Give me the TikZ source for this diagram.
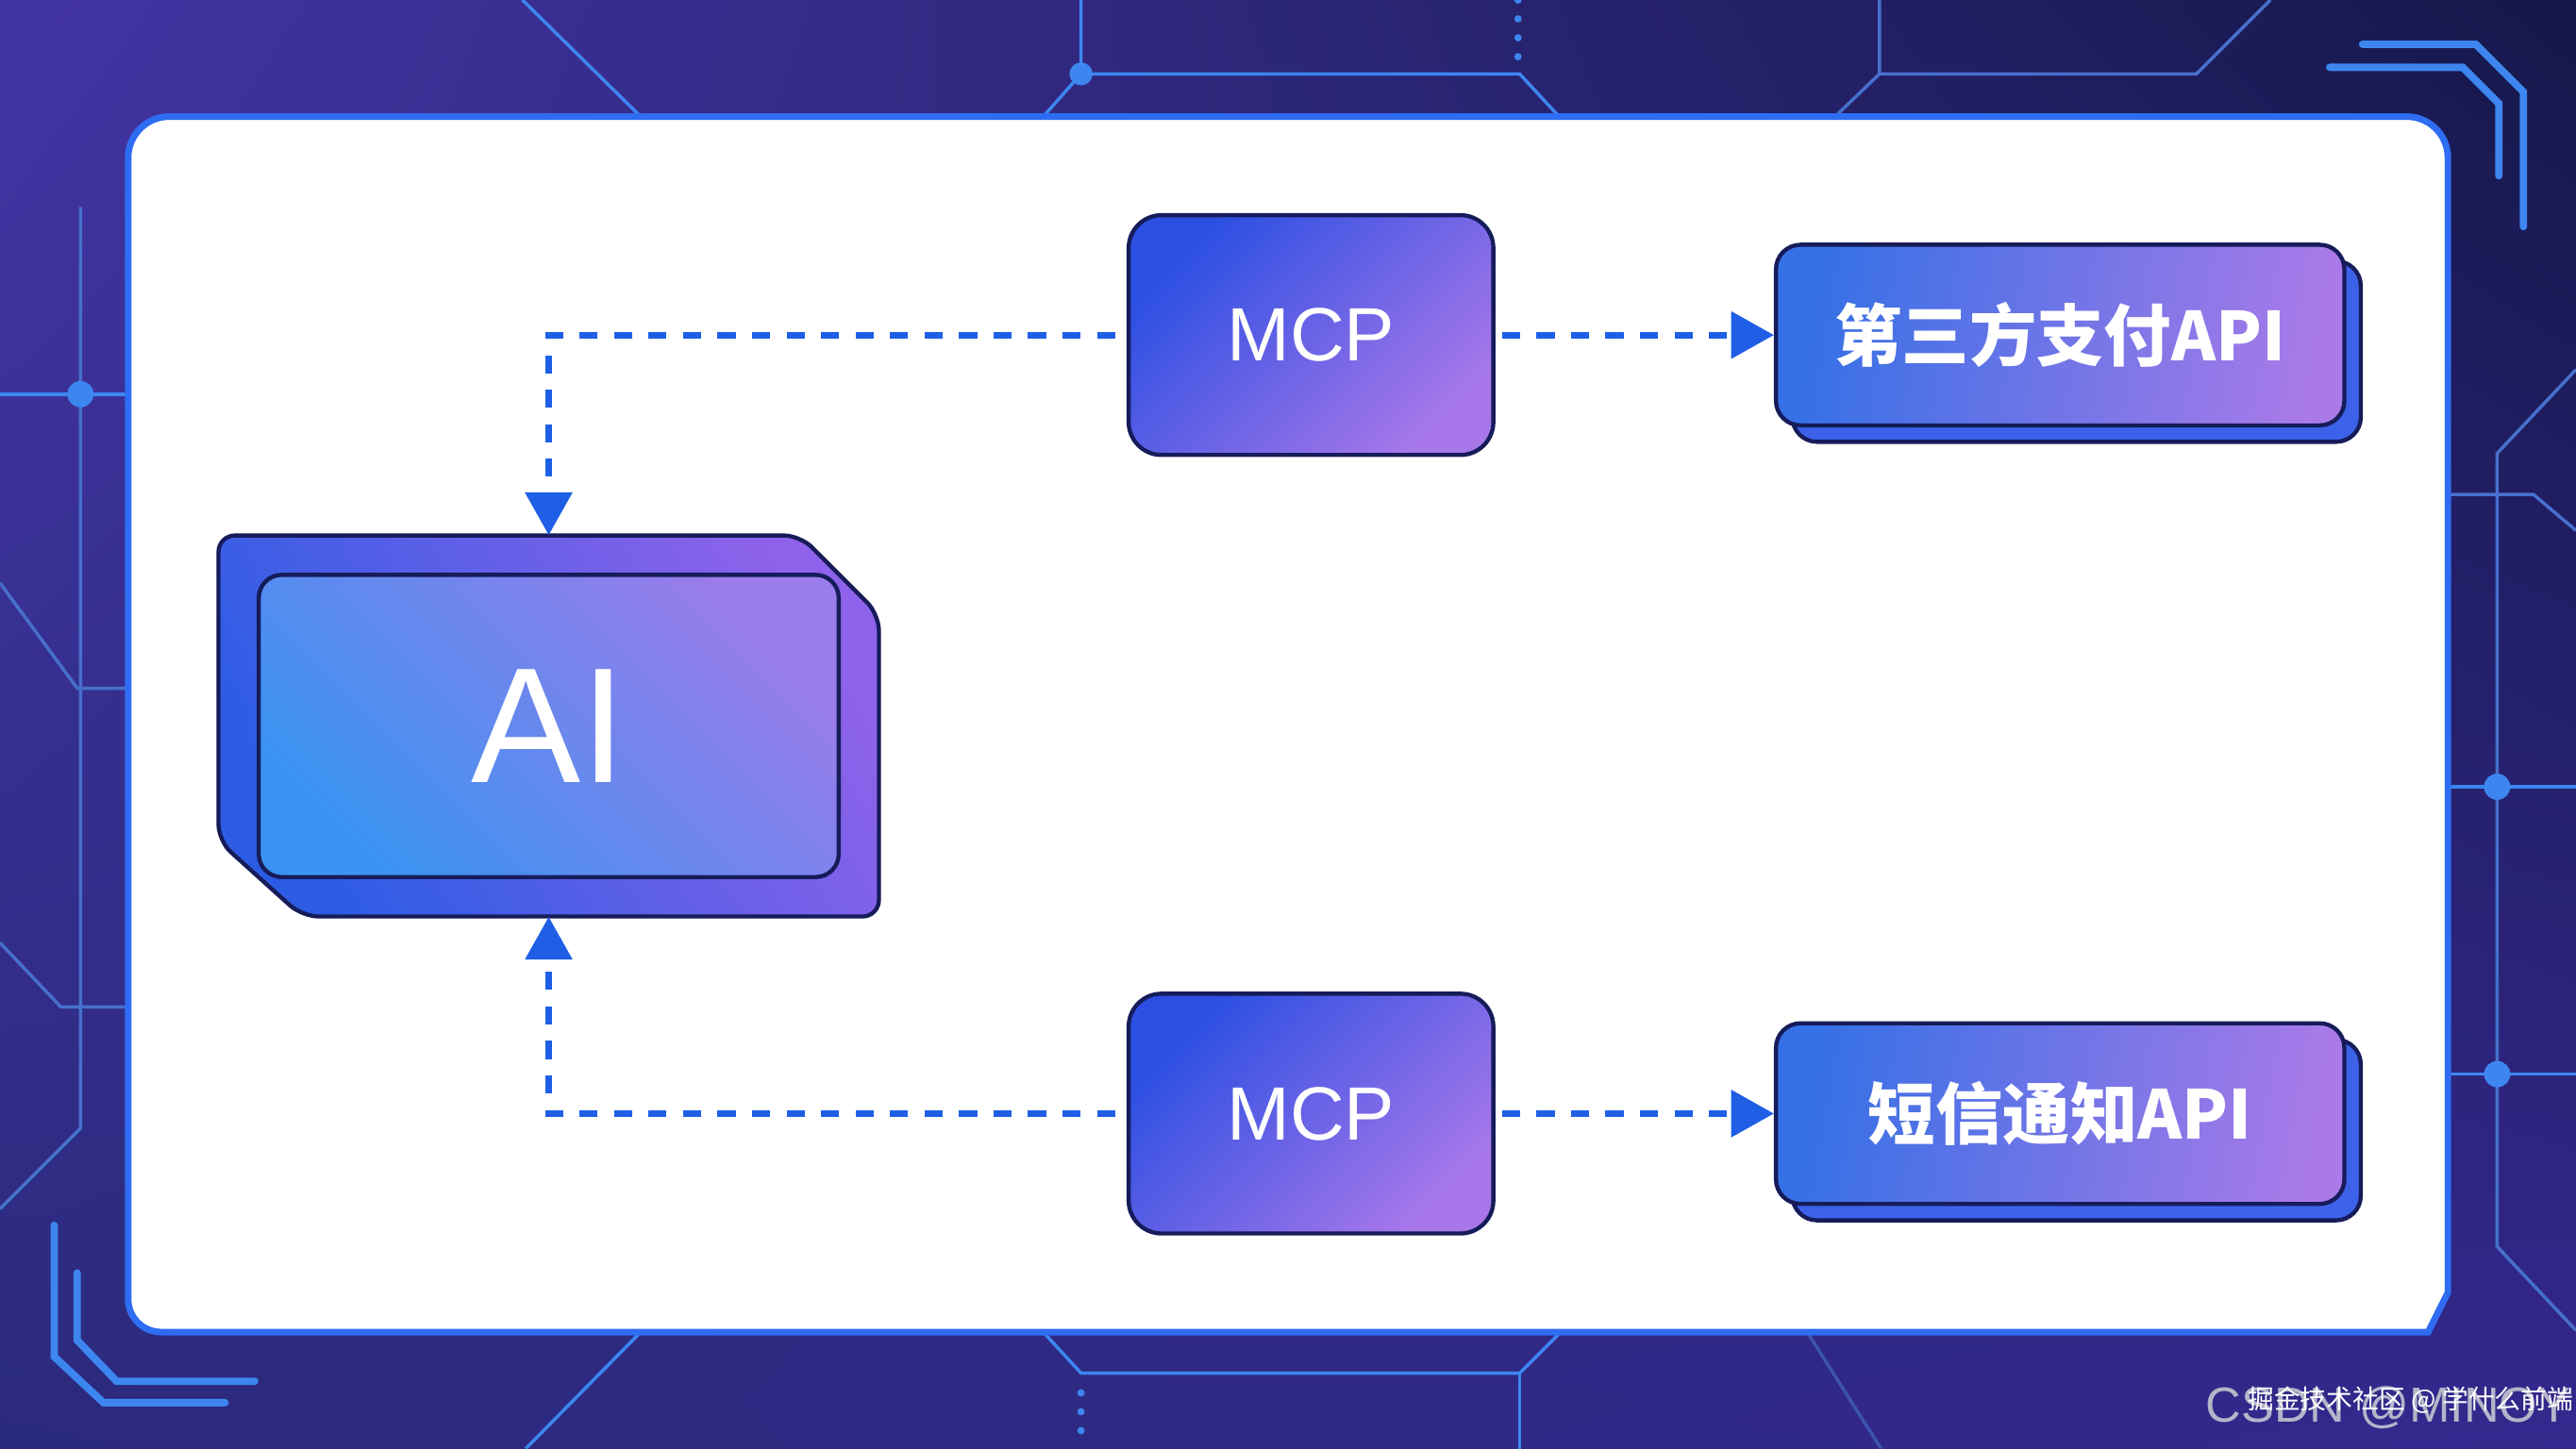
\documentclass[tikz,border=0pt]{standalone}
\usepackage{fontspec}
\setmainfont{Liberation Sans}
\newfontfamily\cjk{Noto Sans CJK SC}
\usetikzlibrary{arrows.meta,calc,shadings}
\definecolor{bgA}{HTML}{4334A4}
\definecolor{bgB}{HTML}{15174A}
\definecolor{bgC}{HTML}{2A2A7C}
\definecolor{bgD}{HTML}{34288E}
\definecolor{lineblue}{HTML}{3D86F0}
\definecolor{linedim}{HTML}{4670CC}
\definecolor{navy}{HTML}{161C5A}
\definecolor{mcpA}{HTML}{2B4FE2}
\definecolor{mcpM}{HTML}{5563E2}
\definecolor{mcpB}{HTML}{A777EA}
\definecolor{apiA}{HTML}{3570E6}
\definecolor{apiM}{HTML}{6570E4}
\definecolor{apiB}{HTML}{A97AE8}
\definecolor{apiS}{HTML}{3C62EA}
\definecolor{aiOA}{HTML}{2C5CE4}
\definecolor{aiOM}{HTML}{4A56DE}
\definecolor{aiOB}{HTML}{8E62EA}
\definecolor{aiIA}{HTML}{3A93F2}
\definecolor{aiIM}{HTML}{4D72E4}
\definecolor{aiIB}{HTML}{9A7CEA}
\definecolor{connblue}{HTML}{1F5FE6}
\definecolor{panelblue}{HTML}{2E6CF2}
\definecolor{wmgrey}{HTML}{C4C4D0}
\tikzset{
  circ/.style={draw=lineblue, line width=2pt},
  circdim/.style={draw=linedim, line width=2pt},
  bracket/.style={draw=lineblue, line width=4.5pt, line cap=round},
  dotline/.style={draw=lineblue, line width=4.5pt, line cap=round, dash pattern=on 0pt off 11.5pt},
  box/.style={draw=navy, line width=2.5pt, inner sep=0pt, text=white},
  mcpbox/.style={box, rounded corners=20pt, minimum width=222pt, minimum height=146pt,
    left color=mcpA, middle color=mcpM, right color=mcpB, shading angle=45,
    font=\fontsize{46}{46}\selectfont},
  apibox/.style={box, rounded corners=15pt, minimum width=346pt, minimum height=110pt,
    left color=apiA, middle color=apiM, right color=apiB, shading angle=80,
    font=\cjk\bfseries\fontsize{41}{41}\selectfont},
  apishadow/.style={box, rounded corners=15pt, minimum width=346pt, minimum height=110pt,
    fill=apiS},
  aiouter/.style={draw=navy, line width=2.5pt, left color=aiOA, middle color=aiOM, right color=aiOB, shading angle=120},
  aiinner/.style={box, rounded corners=14pt, minimum width=353pt, minimum height=184pt,
    left color=aiIA, middle color=aiIM, right color=aiIB, shading angle=135,
    font=\fontsize{100}{100}\selectfont},
  conn/.style={draw=connblue, line width=4pt, dash pattern=on 11pt off 10pt,
    -{Triangle[length=26pt,width=28pt]}},
  panel/.style={draw=panelblue, line width=4pt, fill=white}
}
\begin{document}
\begin{tikzpicture}[x=1pt,y=-1pt]
\useasboundingbox (0,0) rectangle (1568,882);
\clip (0,0) rectangle (1568,882);
\shade[upper left=bgA, upper right=bgB, lower left=bgC, lower right=bgD] (0,0) rectangle (1568,882);

% circuit lines: top
\draw[circ] (318,0) -- (390,71);
\draw[circ] (658,0) -- (658,45) -- (925,45) -- (949,71);
\draw[circ] (658,45) -- (635,71);
\fill[lineblue] (658,45) circle[radius=7];
\draw[dotline] (924,0) -- (924,36);
\draw[circdim] (1144,0) -- (1144,45) -- (1337,45) -- (1382,0);
\draw[circdim] (1144,45) -- (1117,71);
\draw[bracket] (1438,27) -- (1507,27) -- (1536,56) -- (1536,138);
\draw[bracket] (1418,41) -- (1499,41) -- (1521,63) -- (1521,107);
% left
\draw[circdim] (49,126) -- (49,687) -- (0,736);
\draw[circ] (0,240) -- (78,240);
\fill[lineblue] (49,240) circle[radius=8];
\draw[circdim] (0,355) -- (47,419) -- (78,419);
\draw[circdim] (0,574) -- (37,613) -- (78,613);
\draw[bracket] (33,746) -- (33,826) -- (63,854) -- (137,854);
\draw[bracket] (47,775) -- (47,816) -- (71,841) -- (155,841);
% bottom
\draw[circ] (390,811) -- (320,882);
\draw[circ] (635,811) -- (658,836) -- (925,836) -- (950,811);
\draw[circ] (925,836) -- (925,882);
\draw[dotline] (658,848) -- (658,882);
\draw[circdim, opacity=0.6] (1100,811) -- (1145,882);
% right
\draw[circdim] (1568,225) -- (1520,276) -- (1520,759) -- (1568,810);
\draw[circdim] (1490,301) -- (1542,301) -- (1568,323);
\draw[circ] (1490,479) -- (1568,479);
\draw[circ] (1490,654) -- (1568,654);
\fill[lineblue] (1520,479) circle[radius=8];
\fill[lineblue] (1520,654) circle[radius=8];

% panel
\draw[panel] (78,300) [rounded corners=25pt] -- (78,71) -- (1490,71) -- (1490,600)
  [sharp corners] -- (1490,787) -- (1478,811) -- (1000,811)
  [rounded corners=20pt] -- (78,811) -- (78,300) -- cycle;

% AI
\node[minimum width=402pt, minimum height=232pt, inner sep=0pt] (ai) at (334,442) {};
\draw[aiouter, rounded corners=10pt] (133,326) -- (487,326) -- (535,374) -- (535,558) -- (184,558) -- (133,512) -- cycle;
\node[aiinner] (aiin) at (334,442) {AI};

% MCP boxes
\node[mcpbox] (mcp1) at (798,204) {MCP};
\node[mcpbox] (mcp2) at (798,678) {MCP};

% API boxes
\node[apishadow] (api1s) at (1264,214) {};
\node[apibox] (api1) at (1254,204) {第三方支付API};
\node[apishadow] (api2s) at (1264,688) {};
\node[apibox] (api2) at (1254,678) {短信通知API};

% connectors
\draw[conn] ([xshift=-7pt]mcp1.west) -| (ai.north);
\draw[conn] ([xshift=-7pt]mcp2.west) -| (ai.south);
\draw[conn] ([xshift=4pt]mcp1.east) -- (api1.west);
\draw[conn] ([xshift=4pt]mcp2.east) -- (api2.west);

% watermark
\node[font=\fontsize{30}{30}\selectfont, text=wmgrey, opacity=0.9, anchor=base east, inner sep=0pt] (wm1) at (1565,866) {CSDN @MINOY};
\node[font=\cjk\fontsize{16}{16}\selectfont, text=white, anchor=base west, inner sep=0pt] (wm2) at (1368,858) {掘金技术社区 @ 学什么前端};
\end{tikzpicture}
\end{document}
